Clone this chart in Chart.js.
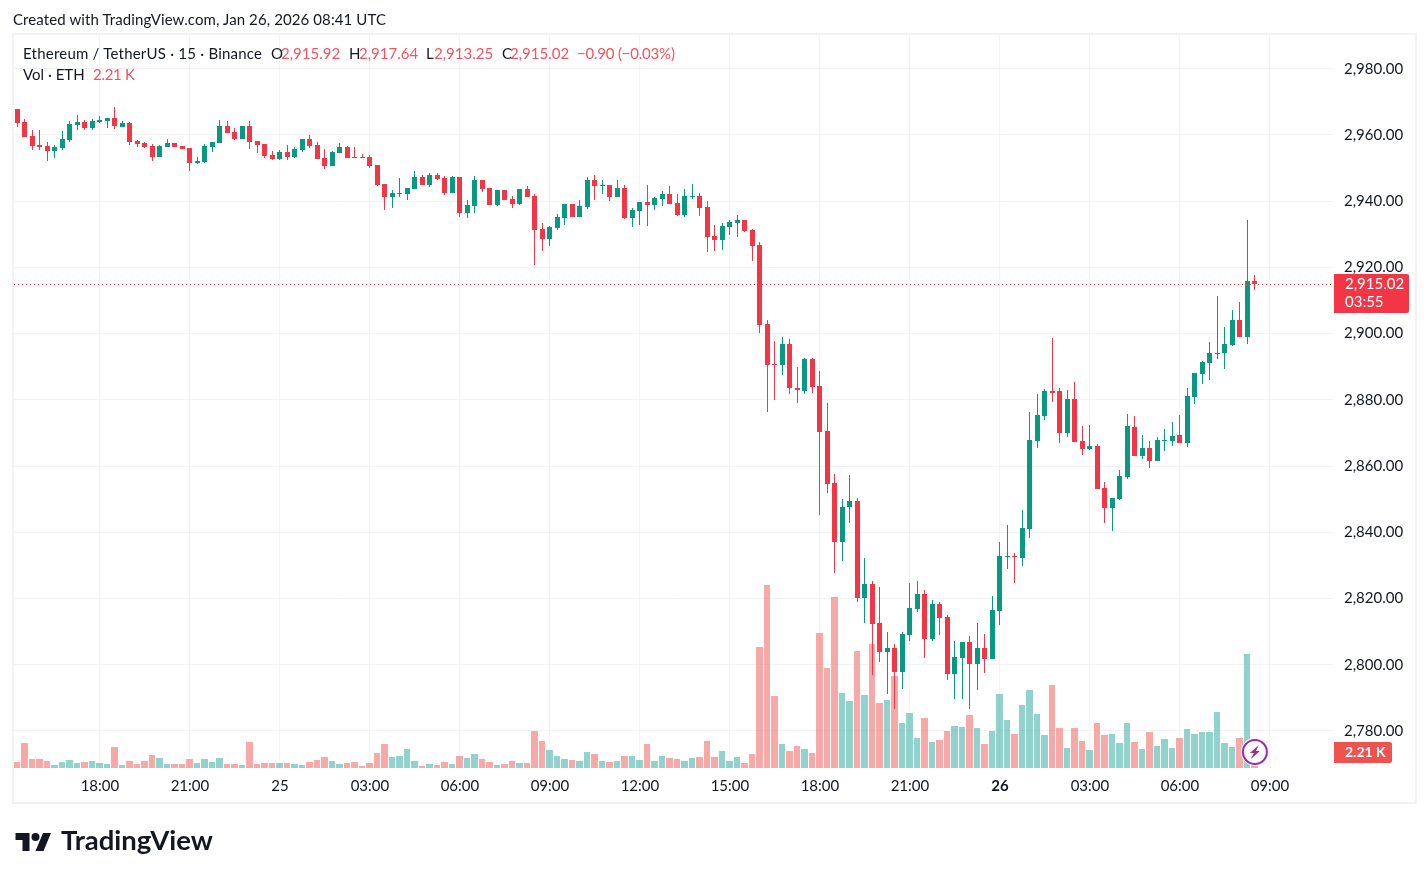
<!DOCTYPE html>
<html>
<head>
<meta charset="utf-8">
<title>ETHUSDT 15</title>
<script src="https://cdn.jsdelivr.net/npm/chart.js@4"></script>
<style>
  html, body { margin: 0; background: #fff; }
  body { width: 1428px; height: 878px; position: relative; overflow: hidden; font-family: Lato, sans-serif; color: #131722; }
  canvas { position: absolute; left: 0; top: 0; }
  .t { position: absolute; font-size: 15px; line-height: 18px; white-space: pre; }
  .r { color: #f7525f; }
  #frame { position: absolute; left: 12px; top: 33px; width: 1401px; height: 767px; border: 2px solid #f1f2f4; }
  #logo { position: absolute; left: 15px; top: 830px; }
  #logotext { position: absolute; left: 61px; top: 824px; font-size: 27.5px; line-height: 32px; font-weight: 700; white-space: pre; }
</style>
</head>
<body>
<div id="frame"></div>
<canvas id="myChart" width="1428" height="878"></canvas>
<div class="t" style="left:13px;top:10px;letter-spacing:.1px">Created with TradingView.com, Jan 26, 2026 08:41 UTC</div>
<div class="t" style="left:23px;top:44px;letter-spacing:.22px">Ethereum / TetherUS · 15 · Binance</div>
<div class="t" style="left:271px;top:44px">O</div><div class="t r" style="left:281px;top:44px">2,915.92</div>
<div class="t" style="left:349px;top:44px">H</div><div class="t r" style="left:359px;top:44px">2,917.64</div>
<div class="t" style="left:426px;top:44px">L</div><div class="t r" style="left:434px;top:44px">2,913.25</div>
<div class="t" style="left:502px;top:44px">C</div><div class="t r" style="left:510px;top:44px">2,915.02</div>
<div class="t r" style="left:577px;top:44px;letter-spacing:-.2px">−0.90 (−0.03%)</div>
<div class="t" style="left:23px;top:65px">Vol · ETH</div><div class="t r" style="left:93px;top:65px;letter-spacing:-.3px">2.21 K</div>
<svg id="logo" width="37" height="22" viewBox="0 0 36 22" fill="#131722"><path d="M14 21H7V10H0V3h14v18zM28 21h-8l7.5-18h8L28 21z"/><circle cx="20" cy="7" r="4"/></svg>
<div id="logotext">TradingView</div>
<script>
const opens = [
  2967.9,2963.9,2959.7,2957,2956.7,2955.2,2956.1,2958.5,2963,2963.9,
  2962.1,2963.9,2964.2,2965.1,2962.4,2963.6,2958.2,2957.6,2956.7,2953.4,
  2956.4,2957.6,2956.7,2956.1,2951.5,2951.8,2956.4,2957.6,2962.7,2960.9,
  2958.8,2962.7,2958.2,2957.3,2954,2952.8,2954.9,2953.4,2955.5,2958.8,
  2957,2953.1,2950.6,2954.6,2956.4,2953.4,2953.4,2953.4,2951,2945.2,
  2941.3,2942.2,2942.2,2943.7,2947.3,2944.9,2947.9,2947,2942.5,2947.3,
  2936.4,2938.5,2946.4,2944,2938.8,2943.4,2940.7,2939.1,2943.7,2941.6,
  2931.6,2928.5,2931.9,2934.9,2939.1,2935.2,2938.2,2946.4,2944.6,2944.9,
  2941.3,2944,2934.9,2937,2939.8,2938.8,2940.7,2942.2,2939.5,2935.8,
  2941.3,2941.6,2938.2,2929.5,2928.2,2932.2,2933.4,2934.3,2931.3,2926.7,
  2902.8,2890.7,2890.4,2896.8,2883.5,2882.8,2892.2,2884.1,2870.7,2855,
  2837.1,2847.7,2849.3,2820.2,2824.5,2812.7,2803.9,2805.1,2797.8,2809,
  2816.9,2821.4,2807.8,2818.4,2814.5,2797.2,2802.1,2806.9,2800.2,2805.1,
  2801.8,2816.3,2832.6,2832.9,2832.3,2841.1,2867.7,2875,2882.6,2882.6,
  2870.1,2880.4,2867.7,2865.3,2866.2,2853.5,2847.4,2850.2,2856.8,2871.9,
  2862.9,2865.6,2861.6,2867.7,2867.7,2869.5,2867.1,2881,2887.7,2891,
  2894,2894,2896.5,2904,2898.9,2915.92
];
const closes = [
  2963.6,2959.4,2956.7,2956.4,2955.2,2956.4,2958.8,2963.3,2963.9,2962.1,
  2964.2,2964.5,2965.1,2962.7,2963.6,2957.9,2957.3,2956.4,2953.4,2956.7,
  2957.6,2956.4,2955.8,2951.5,2952.1,2956.7,2957.9,2962.7,2960.6,2958.8,
  2962.7,2957.9,2957,2953.6,2952.8,2954.9,2953.4,2955.8,2958.8,2956.7,
  2952.8,2950.6,2954.9,2956.4,2953.1,2953.1,2953.1,2950.6,2944.9,2941.3,
  2942.5,2942.5,2944,2947.3,2944.9,2947.9,2946.7,2942.5,2947.3,2936.4,
  2938.8,2946.4,2943.7,2938.8,2943.4,2940.4,2939.1,2943.7,2941.3,2931.3,
  2928.5,2932.2,2935.2,2939.1,2935.2,2938.5,2946.4,2944.6,2944.9,2941.3,
  2944,2934.9,2937.3,2939.8,2938.8,2941,2942.2,2939.1,2935.8,2941.6,
  2941.6,2938,2929.2,2928.2,2932.5,2933.7,2934.3,2931,2926.5,2902.5,
  2890.4,2890.4,2896.8,2883.5,2882.9,2892.2,2883.8,2870.4,2854.7,2837.1,
  2847.7,2849.3,2820.2,2824.5,2812.4,2803.9,2805.1,2797.8,2809.3,2817.2,
  2821.4,2807.8,2818.4,2814.2,2797.2,2802.4,2806.9,2800.2,2805.1,2801.8,
  2816.6,2832.9,2832.9,2832.6,2841.4,2868,2875.3,2882.6,2882.2,2870.1,
  2880.4,2867.4,2865.3,2866.2,2853.2,2847.4,2850.5,2857.1,2872,2862.9,
  2865.6,2861.6,2868,2868,2869.2,2867.1,2881.3,2888,2891.3,2894,
  2894.3,2896.8,2904,2898.9,2915.8,2915.02
];
const highs = [
  2967.9,2964.8,2961.5,2961.5,2957.9,2957,2961.2,2964.2,2966.1,2964.5,
  2964.8,2965.8,2965.1,2968.5,2964.2,2963.9,2958.5,2957.9,2957.3,2957,
  2958.8,2957.6,2956.7,2956.1,2953.3,2957.3,2957.9,2964.5,2964.2,2962.1,
  2962.7,2964.2,2958.2,2957.3,2955.2,2955.5,2957,2956.4,2958.8,2960,
  2957.9,2955.8,2955.2,2957.6,2956.7,2956.4,2954.3,2954,2951,2945.2,
  2943.4,2947,2944,2949.1,2947.9,2948.5,2948.5,2947.6,2947.6,2947.3,
  2940.4,2947.6,2946.4,2944,2943.4,2943.4,2941.6,2943.7,2944.6,2942.2,
  2933.4,2932.5,2936.1,2939.1,2939.1,2940.4,2947.3,2947.9,2946.4,2944.9,
  2946.4,2944.9,2937.9,2939.8,2944.9,2941.3,2943.1,2944.6,2942.2,2943.7,
  2945.2,2942.5,2940,2932.8,2933.4,2934.3,2935.8,2934.3,2931.6,2927.6,
  2904,2897.7,2898.9,2898.3,2889.8,2892.5,2892.5,2888.6,2878.9,2857.7,
  2850.1,2857.4,2850.5,2832.3,2825.4,2823.5,2809.9,2806.3,2809.9,2824.8,
  2825.4,2822.6,2819.6,2819,2815.1,2807.2,2806.9,2808.7,2812.6,2809.3,
  2820.8,2837.2,2842.3,2833.8,2846.8,2876.2,2881.9,2883.2,2898.6,2883.5,
  2882.9,2885.3,2872,2872.3,2866.8,2855.3,2850.5,2858.9,2875.6,2875,
  2869.5,2867.7,2868.9,2871.3,2873.2,2875.3,2883.7,2888,2891.6,2897.4,
  2911.3,2901.9,2907,2909.5,2934.3,2917.64
];
const lows = [
  2962.4,2959.4,2955.5,2955.5,2952.1,2953,2955.5,2957.9,2961.5,2961.5,
  2961.5,2963.6,2962.1,2961.8,2962.4,2957,2956.4,2956.1,2952.1,2953.4,
  2956.4,2956.4,2955.8,2949.1,2951.2,2951.5,2954.9,2957.6,2960.6,2958.5,
  2958.8,2955.8,2954.6,2953,2952.5,2952.5,2952.5,2953.1,2954.9,2956.1,
  2952.8,2949.7,2950.6,2954.6,2953.1,2953.1,2953.1,2950,2944.6,2937.3,
  2937.9,2941.3,2940.4,2943.7,2944.9,2944.3,2946.4,2941.9,2942.5,2935.2,
  2934.9,2936.4,2942.8,2938.8,2938.5,2940.4,2937.9,2938.8,2941.3,2920.7,
  2924.9,2926.4,2931.3,2932.8,2935.2,2935.2,2937.6,2940.4,2942.2,2940.1,
  2941.3,2934.6,2932.2,2932.8,2932.5,2937.3,2938.5,2939.1,2935.5,2935.2,
  2940.7,2935.5,2924.6,2924.9,2925.2,2929.8,2929.2,2930.7,2921.9,2900.1,
  2876.2,2880.1,2887.4,2881.9,2878.9,2881.9,2882.2,2845.3,2852,2827.8,
  2831.4,2842.9,2819,2812.6,2796.9,2800.8,2791.2,2786.6,2792.7,2807.2,
  2816,2802.1,2807.2,2809,2795.4,2789.6,2789.6,2786.6,2792.4,2797.5,
  2801.8,2812,2829,2824.8,2829.9,2838.4,2865.6,2873.8,2879.2,2867.1,
  2868.9,2867.4,2863.2,2864.7,2853.2,2842.9,2840.5,2849.6,2856.2,2862.9,
  2862,2859.5,2861.6,2864.4,2866.2,2867.1,2865.9,2878.6,2884.7,2885.9,
  2892.2,2889.2,2896.2,2898.9,2896.8,2913.25
];
// volume in thousands of ETH
const volumes = [
  .88,3.68,1.32,1.32,1.03,.44,.88,1.18,.74,.88,
  1.03,.74,.59,3.09,.44,1.03,.59,1.03,1.91,1.47,
  .59,.59,.59,1.32,.74,1.32,.88,1.47,.59,.59,
  .44,3.82,.59,.74,.74,.74,.74,.59,.44,.88,
  1.18,1.62,1.03,.59,.74,.88,.29,.74,2.21,3.53,
  1.62,1.76,2.79,1.03,.29,.59,.44,.88,.59,1.76,
  1.47,2.06,1.32,.88,.44,.59,1.03,.74,.74,5.44,
  3.97,2.65,1.76,1.32,1.18,1.03,2.35,2.06,1.03,.88,
  1.03,1.76,1.76,1.18,3.53,1.03,1.76,1.47,1.32,1.03,
  1.47,1.62,3.97,1.62,2.5,1.03,1.62,.74,2.06,17.79,
  26.9,10.58,3.53,2.5,3.23,2.79,2.21,19.85,14.7,25.14,
  11.03,9.85,17.2,10.73,18.23,9.56,10,13.52,6.62,8.09,
  4.41,7.35,3.82,4.12,5.44,6.17,6.03,7.79,5.88,3.53,
  5.44,10.88,7.06,5,9.26,11.47,7.94,4.85,12.2,5.88,
  2.94,5.88,3.97,2.65,6.62,4.85,5,3.68,6.62,3.82,
  2.79,5.29,3.23,4.26,2.94,4.41,5.73,5,5.29,5.29,
  8.23,3.68,3.09,4.41,16.76,2.21
];
const tickSlots = [11, 23, 35, 47, 59, 71, 83, 95, 107, 119, 131, 143, 155, 167];
const tickLabels = ["18:00", "21:00", "25", "03:00", "06:00", "09:00", "12:00", "15:00", "18:00", "21:00", "26", "03:00", "06:00", "09:00"];
const priceTicks = [2780, 2800, 2820, 2840, 2860, 2880, 2900, 2920, 2940, 2960, 2980];

const UP = "#089981", DOWN = "#f23645", GRID = "#f2f3f5";
const FONT = "Lato, sans-serif";
const last = closes.length - 1;
const isUp = (i) => closes[i] >= opens[i];
const fmt = (v) => v.toLocaleString("en-US", { minimumFractionDigits: 2, maximumFractionDigits: 2 });

// snap bars to whole pixels so wicks and bodies stay crisp
const snapBars = {
  id: "snapBars",
  afterDatasetsUpdate(chart) {
    chart.data.datasets.forEach((ds, d) => {
      chart.getDatasetMeta(d).data.forEach((el, i) => {
        const px = Math.floor(el.x);
        if (ds.label === "Vol") {
          el.width = i % 2 ? 7 : 6;
          el.x = px - 3 + el.width / 2;
          el.y = Math.round(el.y);
          el.base = Math.round(el.base);
          return;
        }
        el.x = px + 0.5;
        const top = Math.round(Math.min(el.y, el.base));
        const bottom = Math.max(Math.round(Math.max(el.y, el.base)), top + 1);
        el.y = top;
        el.base = bottom;
      });
    });
  },
};

// last price line, axis tags and the purple badge
const overlay = {
  id: "overlay",
  afterDatasetsDraw(chart) {
    const { ctx, chartArea: a, scales } = chart;
    const y = Math.round(scales.y.getPixelForValue(closes[last])) + 0.5;
    ctx.save();
    ctx.strokeStyle = DOWN;
    ctx.lineWidth = 1;
    ctx.setLineDash([1, 3]);
    ctx.beginPath();
    ctx.moveTo(a.left, y);
    ctx.lineTo(a.right, y);
    ctx.stroke();
    ctx.restore();
  },
  afterDraw(chart) {
    const { ctx, scales } = chart;
    const y = scales.y.getPixelForValue(closes[last]);
    const vy = scales.vol.getPixelForValue(volumes[last]);
    ctx.save();
    ctx.fillStyle = DOWN;
    ctx.beginPath();
    ctx.roundRect(1334, y - 10, 75, 39, [0, 2, 2, 0]);
    ctx.fill();
    ctx.fillStyle = "#fff";
    ctx.font = "15px " + FONT;
    ctx.textBaseline = "middle";
    ctx.fillText(fmt(closes[last]), 1345, y);
    ctx.fillText("03:55", 1345, y + 18);

    ctx.fillStyle = "#ef5350";
    ctx.beginPath();
    ctx.roundRect(1334, vy - 11, 58, 21, [0, 2, 2, 0]);
    ctx.fill();
    ctx.fillStyle = "#fff";
    ctx.font = "700 14px " + FONT;
    ctx.fillText(volumes[last] + " K", 1345, vy);

    const bx = scales.x.getPixelForValue(last), by = vy - 1;
    ctx.fillStyle = "#fff";
    ctx.beginPath();
    ctx.arc(bx, by, 14, 0, Math.PI * 2);
    ctx.fill();
    ctx.strokeStyle = "#9c27b0";
    ctx.lineWidth = 2;
    ctx.beginPath();
    ctx.arc(bx, by, 12, 0, Math.PI * 2);
    ctx.stroke();
    ctx.fillStyle = "#9c27b0";
    ctx.beginPath();
    ctx.moveTo(bx + 4, by - 7);
    ctx.lineTo(bx - 5, by + 1);
    ctx.lineTo(bx - 1, by + 1);
    ctx.lineTo(bx - 4, by + 7);
    ctx.lineTo(bx + 5, by - 1);
    ctx.lineTo(bx + 1, by - 1);
    ctx.closePath();
    ctx.fill();
    ctx.restore();
  },
};

const ctx = document.getElementById("myChart").getContext("2d");
new Chart(ctx, {
  type: "bar",
  data: {
    datasets: [
      {
        label: "Body",
        data: opens.map((o, i) => ({ x: i, y: [o, closes[i]] })),
        backgroundColor: opens.map((o, i) => (isUp(i) ? UP : DOWN)),
        barThickness: 5,
        inflateAmount: 0,
        grouped: false,
        order: 1,
        yAxisID: "y",
      },
      {
        label: "Wick",
        data: lows.map((l, i) => ({ x: i, y: [l, highs[i]] })),
        backgroundColor: lows.map((l, i) => (isUp(i) ? UP : DOWN)),
        barThickness: 1,
        inflateAmount: 0,
        grouped: false,
        order: 2,
        yAxisID: "y",
      },
      {
        label: "Vol",
        data: volumes.map((v, i) => ({ x: i, y: v })),
        backgroundColor: volumes.map((v, i) => (isUp(i) ? "rgba(38,166,154,.5)" : "rgba(239,83,80,.5)")),
        barThickness: 6,
        inflateAmount: 0,
        grouped: false,
        order: 3,
        yAxisID: "vol",
      },
    ],
  },
  options: {
    responsive: false,
    animation: false,
    devicePixelRatio: 1,
    layout: { padding: { left: 14, top: 35, right: 13, bottom: 76 } },
    plugins: { legend: { display: false }, tooltip: { enabled: false } },
    scales: {
      x: {
        type: "linear",
        offset: false,
        min: -0.4533,
        max: 175.413,
        afterBuildTicks: (s) => { s.ticks = tickSlots.map((v) => ({ value: v })); },
        afterFit: (s) => { s.height = 34; },
        grid: { color: GRID, drawTicks: false, offset: false },
        border: { display: false },
        ticks: {
          autoSkip: false,
          maxRotation: 0,
          padding: 9,
          color: "#131722",
          font: (c) => ({ family: FONT, size: 15, weight: tickLabels[c.index] === "26" ? "700" : "400" }),
          callback: (value) => tickLabels[tickSlots.indexOf(value)],
        },
      },
      y: {
        position: "right",
        min: 2768.8,
        max: 2990.2,
        afterBuildTicks: (s) => { s.ticks = priceTicks.map((v) => ({ value: v })); },
        afterFit: (s) => { s.width = 82; },
        grid: { color: GRID, drawTicks: false },
        border: { display: false },
        ticks: {
          padding: 11,
          color: "#131722",
          font: { family: FONT, size: 15 },
          callback: (value) => fmt(value),
        },
      },
      vol: { display: false, min: 0, max: 107.75 },
    },
  },
  plugins: [snapBars, overlay],
});
</script>
</body>
</html>
